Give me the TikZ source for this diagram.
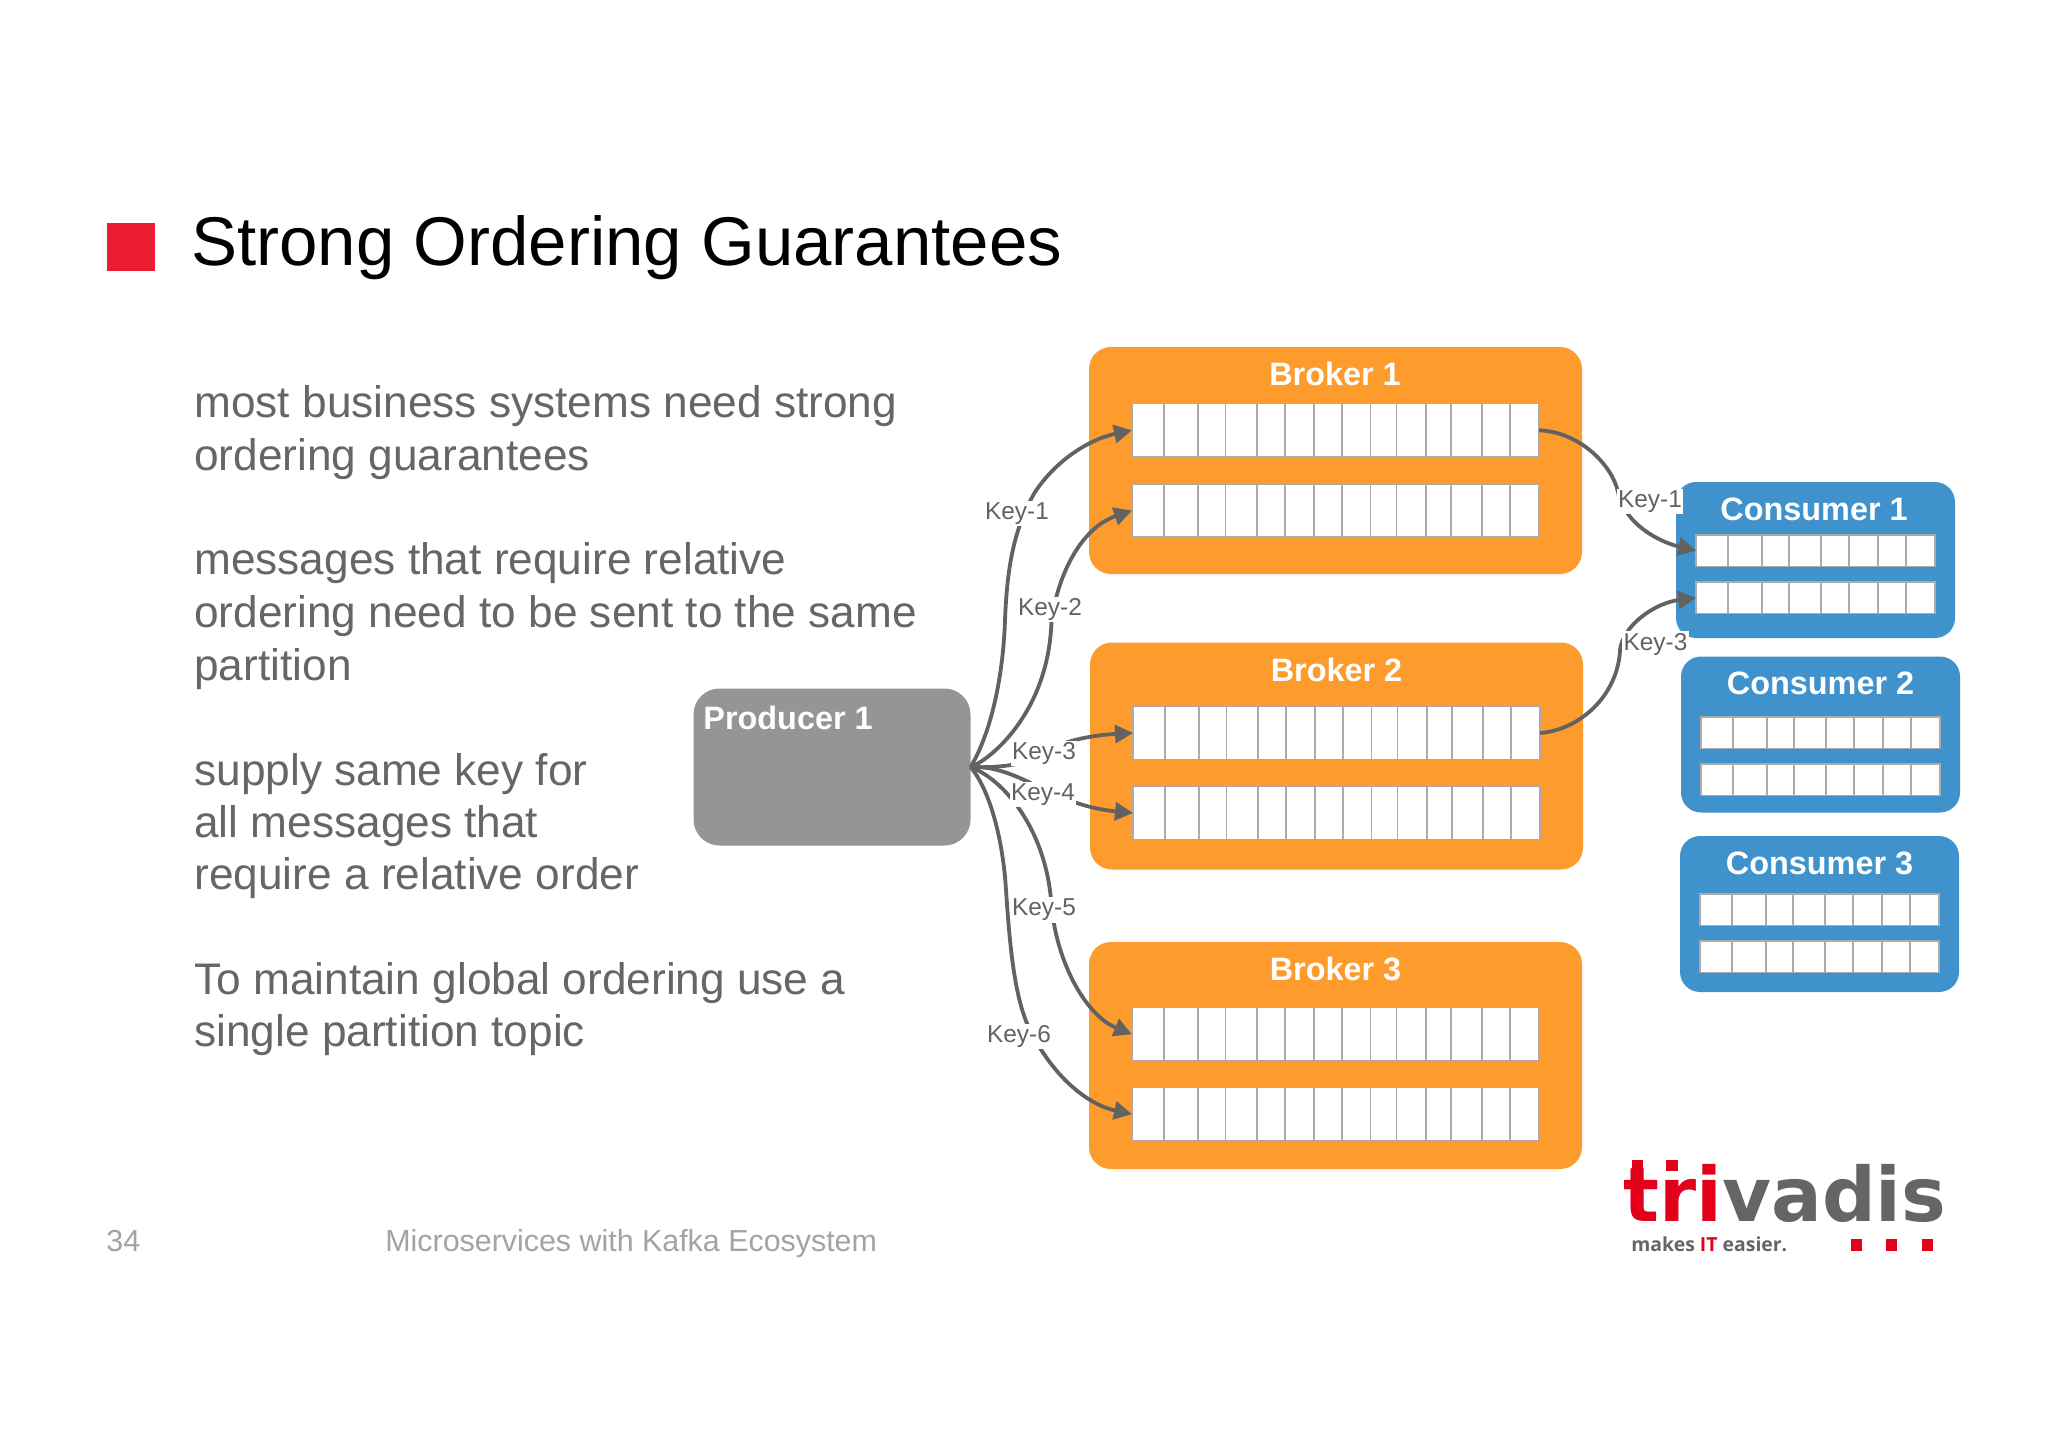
\documentclass[tikz,border=0pt]{standalone}
\usepackage{fontspec}
\setmainfont{Liberation Sans}
\newfontfamily\logofont{DejaVu Sans}
\newfontfamily\tagfont{Open Sans}
\usetikzlibrary{arrows.meta}
\definecolor{brokerc}{HTML}{FD9B2D}
\definecolor{consc}{HTML}{4092CC}
\definecolor{prodc}{HTML}{959595}
\definecolor{cellc}{HTML}{ABABAB}
\definecolor{connc}{HTML}{626262}
\definecolor{bodyc}{HTML}{666666}
\definecolor{footc}{HTML}{A3A3A3}
\definecolor{redsq}{HTML}{ED1C34}
\definecolor{logored}{HTML}{E2001A}
\definecolor{logogrey}{HTML}{646567}
\newcommand{\fsz}[1]{\fontsize{#1pt}{#1pt}\selectfont}
% \kqueue{name}{left}{top}{width}{height}{macro holding divider offsets}
\newcommand{\kqueue}[6]{%
  \node[queuebox,minimum width=#4*0.5pt,minimum height=#5*0.5pt] (#1) at ({#2+#4/2},{#3+#5/2}) {};
  \foreach \dv in #6 {\draw[cellline] ({#2+\dv},#3) -- ({#2+\dv},{#3+#5});}
}
\newcommand{\bdiv}{32.3,65.8,93.4,124.7,152.8,181.8,210,238.5,264.4,293.9,318.9,350,378.3}
\newcommand{\cdiv}{32,65.7,93.3,124.7,153,181.7,209.7}
\tikzset{
  box/.style={rectangle,rounded corners=11pt,inner sep=0pt,outer sep=0pt},
  brokerbox/.style={box,fill=brokerc,minimum width=246.5pt,minimum height=113.5pt},
  consbox/.style={box,fill=consc,rounded corners=10pt,minimum width=139.5pt,minimum height=78pt},
  prodbox/.style={box,fill=prodc,rounded corners=13pt},
  queuebox/.style={rectangle,draw=cellc,line width=0.9pt,fill=white,inner sep=0pt,outer sep=0pt},
  cellline/.style={draw=cellc,line width=0.9pt},
  boxtitle/.style={text=white,font=\bfseries\fsz{16.2},inner sep=0pt},
  conn/.style={draw=connc,line width=1.9pt,-{Triangle[length=9pt,width=9pt]}},
  keylabel/.style={fill=white,text=connc,font=\fsz{12.2},inner sep=0.8pt},
  bodytext/.style={anchor=base west,text=bodyc,font=\fsz{22.1},inner sep=0pt},
  foottext/.style={anchor=base west,text=footc,font=\fsz{15.2},inner sep=0pt},
  logosq/.style={fill=logored,draw=none}
}
\begin{document}
\begin{tikzpicture}[x=0.5pt,y=-0.5pt]
\useasboundingbox[fill=white] (0,0) rectangle (2048,1447);
\fill[redsq] (107,222.5) rectangle (155,270.5);
\node[anchor=base west,text=black,font=\fsz{34.5},inner sep=0pt] (ttl) at (191,265) {Strong Ordering Guarantees};
\node[bodytext] (t1) at (194,417.5) {most business systems need strong};
\node[bodytext] (t2) at (194,470) {ordering guarantees};
\node[bodytext] (t3) at (194,574.5) {messages that require relative};
\node[bodytext] (t4) at (194,627) {ordering need to be sent to the same};
\node[bodytext] (t5) at (194,680) {partition};
\node[bodytext] (t6) at (194,785) {supply same key for};
\node[bodytext] (t7) at (194,837) {all messages that};
\node[bodytext] (t8) at (194,889) {require a relative order};
\node[bodytext] (t9) at (194,994) {To maintain global ordering use a};
\node[bodytext] (t10) at (194,1046) {single partition topic};
\node[foottext] (pg) at (106,1251) {34};
\node[foottext] (ft) at (385,1251) {Microservices with Kafka Ecosystem};
% producer
\node[prodbox,minimum width=138.5pt,minimum height=78.5pt] (prod) at (832,767) {};
\node[anchor=base west,text=white,font=\bfseries\fsz{16.2},inner sep=0pt] (prodt) at (703,729) {Producer 1};
% brokers
\node[brokerbox] (b1) at (1335.5,460.5) {};
\node[brokerbox] (b2) at (1336.5,756) {};
\node[brokerbox] (b3) at (1335.5,1055.5) {};
\node[boxtitle] (b1t) at (1335,374) {Broker 1};
\node[boxtitle] (b2t) at (1336.5,670) {Broker 2};
\node[boxtitle] (b3t) at (1335.5,969) {Broker 3};
\kqueue{q11}{1132}{403.5}{407}{53.5}{\bdiv}
\kqueue{q12}{1132}{484.5}{407}{52}{\bdiv}
\kqueue{q21}{1133}{706.5}{407}{53}{\bdiv}
\kqueue{q22}{1133}{786.5}{407}{53}{\bdiv}
\kqueue{q31}{1132}{1007.5}{407}{53.5}{\bdiv}
\kqueue{q32}{1132}{1087.5}{407}{53.5}{\bdiv}
% consumers
\node[consbox] (c1) at (1815.5,560) {};
\node[consbox] (c2) at (1820.5,734.5) {};
\node[consbox] (c3) at (1819.5,914) {};
\node[boxtitle] (c1t) at (1814,509) {Consumer 1};
\node[boxtitle] (c2t) at (1820.5,683) {Consumer 2};
\node[boxtitle] (c3t) at (1819.5,863) {Consumer 3};
\kqueue{r11}{1696}{535}{239}{31.5}{\cdiv}
\kqueue{r12}{1696}{582}{239}{31.5}{\cdiv}
\kqueue{r21}{1701}{717}{239}{31.5}{\cdiv}
\kqueue{r22}{1701}{764}{239}{31.5}{\cdiv}
\kqueue{r31}{1700}{894}{239}{31.5}{\cdiv}
\kqueue{r32}{1700}{941}{239}{31.5}{\cdiv}
% connectors
\draw[conn] (prod.east) .. controls (990,735) and (1003,680) .. (1005,620) .. controls (1007,570) and (1013,530) .. (1035,492) .. controls (1060,455) and (1095,438) .. (q11.west);
\draw[conn] (prod.east) .. controls (990,760) and (1045,715) .. (1051,630) .. controls (1053,590) and (1075,530) .. (q12.west);
\draw[conn] (prod.east) .. controls (1000,768) and (1030,765) .. (1050,750) .. controls (1065,740) and (1095,735) .. (q21.west);
\draw[conn] (prod.east) .. controls (1020,765) and (1050,805) .. (q22.west);
\draw[conn] (prod.east) .. controls (1005,780) and (1045,830) .. (1051,900) .. controls (1055,960) and (1085,1015) .. (q31.west);
\draw[conn] (prod.east) .. controls (990,790) and (1003,840) .. (1006,890) .. controls (1010,950) and (1015,1000) .. (1030,1030) .. controls (1055,1080) and (1090,1105) .. (q32.west);
\draw[conn] (q11.east) .. controls (1580,432) and (1612,465) .. (1618,492) .. controls (1625,525) and (1660,542) .. (r11.west);
\draw[conn] (q21.east) .. controls (1580,730) and (1618,695) .. (1620,650) .. controls (1623,625) and (1655,603) .. (r12.west);
% key labels
\node[keylabel] (k1) at (1017,513.5) {Key-1};
\node[keylabel] (k2) at (1050,609.5) {Key-2};
\node[keylabel] (k3) at (1044,753.5) {Key-3};
\node[keylabel] (k4) at (1043,794.5) {Key-4};
\node[keylabel] (k5) at (1044,910) {Key-5};
\node[keylabel] (k6) at (1019,1036.5) {Key-6};
\node[keylabel] (k7) at (1650,501.5) {Key-1};
\node[keylabel] (k8) at (1655.5,644) {Key-3};
% logo
\node[anchor=base west,inner sep=0pt,font=\logofont\bfseries\fsz{37.6}] (logo) at (1623,1221) {\textcolor{logored}{tri}\textcolor{logogrey}{vadis}};
\fill[logosq] (1632,1160) rectangle (1643,1171);
\fill[logosq] (1666,1160) rectangle (1678,1171);
\node[anchor=base west,inner sep=0pt,text=logogrey,font=\tagfont\bfseries\fsz{9.7}] (tag) at (1631,1251) {makes \textcolor{logored}{IT} easier.};
\fill[logosq] (1851,1239) rectangle (1862,1251);
\fill[logosq] (1886,1239) rectangle (1897,1251);
\fill[logosq] (1922,1239) rectangle (1933,1251);
\end{tikzpicture}
\end{document}
